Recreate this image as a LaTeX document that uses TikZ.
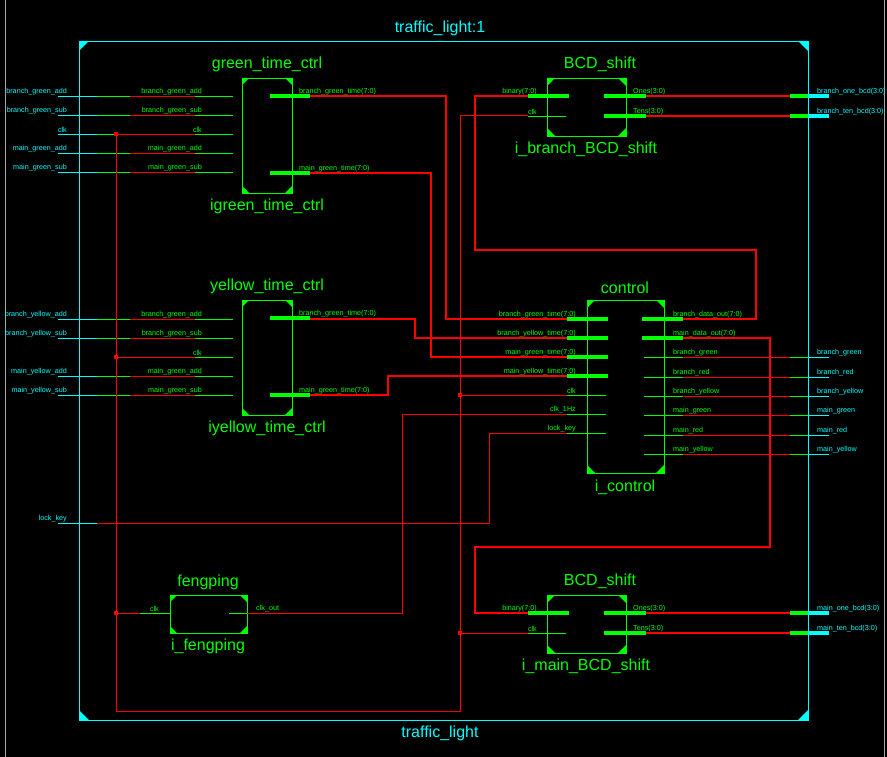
\documentclass[tikz,border=0pt]{standalone}
\usepackage{fontspec}
\setmainfont{Liberation Sans}
\definecolor{portcol}{RGB}{0,255,255}
\definecolor{pincol}{RGB}{0,255,0}
\definecolor{netcol}{RGB}{255,0,0}
\newcommand\tinyfont{\fontsize{7.2}{8}\selectfont}
\newcommand\bigfont{\fontsize{16}{17}\selectfont}
% corner marks of a block: color, x1, y1, x2, y2, size
\newcommand\blockcorners[6]{
    \fill[#1] (#2,#3) -- ++(#6,0) -- ++(-#6,#6) -- cycle;
    \fill[#1] (#4,#3) -- ++(-#6,0) -- ++(#6,#6) -- cycle;
    \fill[#1] (#2,#5) -- ++(#6,0) -- ++(-#6,-#6) -- cycle;
    \fill[#1] (#4,#5) -- ++(-#6,0) -- ++(#6,-#6) -- cycle;
}
\begin{document}
\begin{tikzpicture}[
    x=1pt, y=-1pt,
    every node/.style={inner sep=1pt},
    block/.style={draw=pincol, line width=0.8pt},
    title/.style={text=pincol, font=\bigfont},
    pinlabel/.style={text=pincol, font=\tinyfont},
    portlabel/.style={text=portcol, font=\tinyfont},
    pin/.style={pincol, line width=0.7pt},
    bus pin/.style={pincol, line width=3.5pt},
    net/.style={netcol, line width=0.7pt},
    bus net/.style={netcol, line width=1.4pt},
    port/.style={portcol, line width=0.8pt},
    bus port/.style={portcol, line width=3.5pt},
    dot/.style={fill=netcol, minimum size=3.5pt, inner sep=0pt},
]
    % Background and frame
    \fill[black] (0,0) rectangle (887,757);
    \useasboundingbox (0,0) rectangle (887,757);
    \draw[gray!70, line width=0.8pt] (5,0) -- (5,757);
    \draw[gray!70, line width=0.8pt] (884,0) -- (884,757);
    \draw[portcol, line width=0.8pt] (79,41) rectangle (808,720);
    \blockcorners{portcol}{79}{41}{808}{720}{10}
    \node[text=portcol, font=\bigfont] (top-title) at (440,28) {traffic\_light:1};
    \node[text=portcol, font=\bigfont] (bottom-title) at (440,733) {traffic\_light};

    % Left ports
    \foreach \y/\name/\inner in {
        96/branch_green_add/branch_green_add, 115/branch_green_sub/branch_green_sub,
        134/clk/clk, 153/main_green_add/main_green_add, 172/main_green_sub/main_green_sub,
        319/branch_yellow_add/branch_green_add, 338/branch_yellow_sub/branch_green_sub,
        357/clk/clk, 376/main_yellow_add/main_green_add, 395/main_yellow_sub/main_green_sub} {
        \ifnum\y=357\else
            \draw[port] (58,\y) -- (97,\y);
            \node[portlabel, anchor=south east] at (68,\y) {\detokenize\expandafter{\name}};
            \draw[pin] (97,\y) -- (130,\y);
        \fi
        \draw[net] (130,\y) -- (195,\y);
        \draw[pin] (195,\y) -- (233,\y);
        \node[pinlabel, anchor=south east] at (203,\y) {\detokenize\expandafter{\inner}};
    }
    \draw[port] (58,523) -- (97,523);
    \node[portlabel, anchor=south east] (lock-port) at (68,523) {lock\_key};

    % Time control blocks
    \foreach \top/\mod/\inst in {78/green_time_ctrl/igreen_time_ctrl,
                                 300/yellow_time_ctrl/iyellow_time_ctrl} {
        \draw[block] (242,\top) rectangle (292,\top+115);
        \blockcorners{pincol}{242}{\top}{292}{\top+115}{7}
        \node[title] at (267,\top-14) {\detokenize\expandafter{\mod}};
        \node[title] at (267,\top+128) {\detokenize\expandafter{\inst}};
        \draw[bus pin] (270,\top+18) -- (310,\top+18);
        \draw[bus pin] (270,\top+95) -- (310,\top+95);
        \node[pinlabel, anchor=south west] at (298,\top+18) {branch\_green\_time(7:0)};
        \node[pinlabel, anchor=south west] at (298,\top+95) {main\_green\_time(7:0)};
    }

    % Control block
    \draw[block] (587,300) rectangle (664,473);
    \blockcorners{pincol}{587}{300}{664}{473}{8}
    \node[title] (control) at (625,288) {control};
    \node[title] (i-control) at (625,487) {i\_control};
    \foreach \y/\name in {319/branch_green_time(7:0), 338/branch_yellow_time(7:0),
                          357/main_green_time(7:0), 376/main_yellow_time(7:0)} {
        \draw[bus pin] (567,\y) -- (608,\y);
        \node[pinlabel, anchor=south east] at (577,\y) {\detokenize\expandafter{\name}};
    }
    \foreach \y/\name in {395/clk, 414/clk_1Hz, 433/lock_key} {
        \draw[pin] (567,\y) -- (606,\y);
        \node[pinlabel, anchor=south east] at (577,\y) {\detokenize\expandafter{\name}};
    }
    \foreach \y/\name in {319/branch_data_out(7:0), 338/main_data_out(7:0)} {
        \draw[bus pin] (642,\y) -- (683,\y);
        \node[pinlabel, anchor=south west] at (672,\y) {\detokenize\expandafter{\name}};
    }
    \foreach \y/\name in {357/branch_green, 377/branch_red, 396/branch_yellow,
                          415/main_green, 435/main_red, 454/main_yellow} {
        \draw[pin] (644,\y) -- (683,\y);
        \node[pinlabel, anchor=south west] at (672,\y) {\detokenize\expandafter{\name}};
        \draw[net] (683,\y) -- (790,\y);
        \draw[pin] (790,\y) -- (808,\y);
        \draw[port] (808,\y) -- (829,\y);
        \node[portlabel, anchor=south west] at (816,\y) {\detokenize\expandafter{\name}};
    }

    % BCD shift blocks
    \foreach \top/\inst/\pre in {78/i_branch_BCD_shift/branch, 595/i_main_BCD_shift/main} {
        \draw[block] (547,\top) rectangle (626,\top+58);
        \blockcorners{pincol}{547}{\top}{626}{\top+58}{8}
        \node[title] at (600,\top-14) {BCD\_shift};
        \node[title] at (586,\top+71) {\detokenize\expandafter{\inst}};
        \draw[bus pin] (528,\top+18) -- (569,\top+18);
        \node[pinlabel, anchor=south east] at (538,\top+18) {binary(7:0)};
        \draw[pin] (528,\top+38) -- (566,\top+38);
        \node[pinlabel, anchor=south east] at (538,\top+38) {clk};
        \foreach \dy/\out/\port in {18/Ones/one, 38/Tens/ten} {
            \draw[bus pin] (604,\top+\dy) -- (646,\top+\dy);
            \node[pinlabel, anchor=south west] at (632,\top+\dy) {\out(3:0)};
            \draw[bus net] (646,\top+\dy) -- (790,\top+\dy);
            \draw[bus pin] (790,\top+\dy) -- (808,\top+\dy);
            \draw[bus port] (808,\top+\dy) -- (829,\top+\dy);
            \node[portlabel, anchor=south west] at (816,\top+\dy) {\pre\_\port\_bcd(3:0)};
        }
    }

    % Fengping block
    \draw[block] (170,595) rectangle (247,633);
    \blockcorners{pincol}{170}{595}{247}{633}{7}
    \node[title] (fengping) at (208,582) {fengping};
    \node[title] (i-fengping) at (208,646) {i\_fengping};
    \draw[pin] (140,613) -- (170,613);
    \node[pinlabel, anchor=south east] at (160,613) {clk};
    \draw[pin] (229,613) -- (247,613);
    \node[pinlabel, anchor=south west] at (255,613) {clk\_out};

    % Nets
    \draw[bus net] (310,96) -| (446,319) -- (567,319);
    \draw[bus net] (310,173) -| (431,357) -- (567,357);
    \draw[bus net] (310,319) -| (415,338) -- (567,338);
    \draw[bus net] (310,395) -| (388,376) -- (567,376);
    \draw[bus net] (683,319) -| (756,250) -| (475,96) -- (528,96);
    \draw[bus net] (683,338) -| (770,547) -| (475,613) -- (528,613);
    \draw[net] (116,134) -- (195,134);
    \draw[net] (116,134) |- (460,711) |- (528,115);
    \draw[net] (116,357) -- (195,357);
    \draw[net] (116,613) -- (140,613);
    \draw[net] (460,395) -- (567,395);
    \draw[net] (460,633) -- (528,633);
    \draw[net] (247,613) -| (402,414) -- (567,414);
    \draw[net] (97,523) -| (489,433) -- (567,433);
    \foreach \p in {(116,134),(116,357),(116,613),(460,395),(460,633)}
        \node[dot] at \p {};
\end{tikzpicture}
\end{document}
